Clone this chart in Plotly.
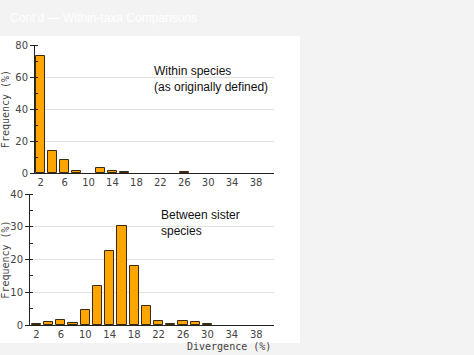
import plotly.graph_objects as go

divergence = [2, 4, 6, 8, 10, 12, 14, 16, 18, 20, 22, 24, 26, 28, 30, 32, 34, 36, 38]
within_species = [73, 14, 8, 1.2, None, 3, 1.3, 0.5, None, None, None, None, 0.4, None, None, None, None, None, None]
between_sister = [0.3, 0.8, 1.6, 0.6, 4.5, 12, 22.7, 30.3, 18, 5.8, 1.3, 0.3, 1.3, 0.8, 0.4, None, None, None, None]
x_ticks = [2, 6, 10, 14, 18, 22, 26, 30, 34, 38]
top_y_ticks = [0, 20, 40, 60, 80]
bottom_y_ticks = [0, 10, 20, 30, 40]

W, H = 474, 355
def px(x):
    return x / W
def py(y):
    return 1 - y / H

fig = go.Figure()
bar_style = dict(marker=dict(color="#FFA500", line=dict(color="#3a2a10", width=1)), width=1.5, showlegend=False)
fig.add_trace(go.Bar(x=divergence, y=within_species, xaxis="x", yaxis="y", **bar_style))
fig.add_trace(go.Bar(x=divergence, y=between_sister, xaxis="x2", yaxis="y2", **bar_style))

tickfont = dict(family="DejaVu Sans", size=10, color="#444")
common_x = dict(tickvals=x_ticks, showgrid=False, showline=True, linecolor="#222", linewidth=1,
                ticks="", tickfont=tickfont, zeroline=False, fixedrange=True, automargin=False)
common_y = dict(showgrid=True, gridcolor="#e2e2e2", gridwidth=1, showline=True, linecolor="#222",
                linewidth=1, ticks="outside", ticklen=4, tickcolor="#222", tickfont=tickfont,
                zeroline=False, title_font=dict(family="DejaVu Sans Mono", size=10, color="#444"),
                automargin=False)

fig.update_layout(
    width=W, height=H,
    margin=dict(l=0, r=0, t=0, b=0, autoexpand=False),
    paper_bgcolor="#f3f3f3", plot_bgcolor="rgba(0,0,0,0)",
    bargap=0,
    xaxis=dict(domain=[px(35), px(274)], range=[1.05, 41], anchor="y", **common_x),
    yaxis=dict(domain=[py(173), py(45)], range=[0, 80], tickvals=top_y_ticks, anchor="x",
               title_text="Frequency (%)", title_standoff=4,
               minor=dict(ticks="inside", ticklen=3, dtick=10, tickcolor="#222", showgrid=False),
               **common_y),
    xaxis2=dict(domain=[px(30), px(274)], range=[0.95, 40.9], anchor="y2", **common_x),
    yaxis2=dict(domain=[py(325), py(194)], range=[0, 40], tickvals=bottom_y_ticks, anchor="x2",
                title_text="Frequency (%)", title_standoff=4,
                minor=dict(ticks="inside", ticklen=3, dtick=5, tickcolor="#222", showgrid=False),
                **common_y),
    shapes=[dict(type="rect", xref="paper", yref="paper", x0=0, x1=px(300), y0=py(343), y1=py(36),
                 fillcolor="white", line=dict(width=0), layer="below")],
    annotations=[
        dict(text="Cont'd — Within-taxa Comparisons", xref="paper", yref="paper", x=px(8), y=py(18),
             xanchor="left", yanchor="middle", showarrow=False,
             font=dict(family="Liberation Sans", size=12, color="#ffffff")),
        dict(text="Within species<br>(as originally defined)", xref="paper", yref="paper",
             x=px(152), y=py(62), xanchor="left", yanchor="top", showarrow=False, align="left",
             font=dict(family="Liberation Sans", size=12, color="#111")),
        dict(text="Between sister<br>species", xref="paper", yref="paper",
             x=px(159), y=py(206), xanchor="left", yanchor="top", showarrow=False, align="left",
             font=dict(family="Liberation Sans", size=12, color="#111")),
        dict(text="Divergence (%)", xref="paper", yref="paper", x=px(273), y=py(346),
             xanchor="right", yanchor="middle", showarrow=False,
             font=dict(family="DejaVu Sans Mono", size=10, color="#444")),
    ],
)

fig.write_html("out.html", config={"displayModeBar": False},
               post_script="document.body.style.margin='0';document.body.style.overflow='hidden';")
